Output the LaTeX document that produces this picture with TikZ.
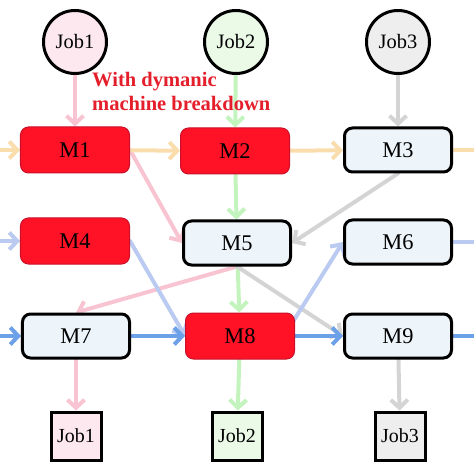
\documentclass[tikz,border=0pt]{standalone}
\usepackage{fontspec}
\setmainfont{Liberation Serif}
\usetikzlibrary{arrows.meta}
\pgfdeclarelayer{bg}
\pgfsetlayers{bg,main}
\definecolor{cpink}{HTML}{F8C4D2}
\definecolor{cgreen}{HTML}{C4F4BE}
\definecolor{cgray}{HTML}{D4D4D4}
\definecolor{cpeach}{HTML}{FADDAC}
\definecolor{clblue}{HTML}{BACAF0}
\definecolor{cblue}{HTML}{6CA0E8}
\definecolor{cred}{HTML}{FF1226}
\definecolor{credb}{HTML}{C8102A}
\definecolor{cbox}{HTML}{EEF5FA}
\definecolor{cjobA}{HTML}{FCE8EE}
\definecolor{cjobB}{HTML}{EAFAE7}
\definecolor{cjobC}{HTML}{EEEEEE}
\definecolor{clabel}{HTML}{E41E2B}
\begin{document}
\begin{tikzpicture}[x=1bp,y=-1bp,
  mbox/.style={rectangle, rounded corners=8bp, inner sep=0pt, font=\fontsize{22.5}{26}\selectfont},
  lightbox/.style={mbox, draw=black, line width=3bp, fill=cbox, minimum width=107bp, minimum height=44bp},
  redbox/.style={mbox, draw=credb, line width=1bp, fill=cred, minimum width=109bp, minimum height=46bp},
  jobc/.style={circle, draw=black, line width=3bp, minimum size=63bp, inner sep=0pt, font=\fontsize{20.5}{24}\selectfont},
  jobs/.style={rectangle, draw=black, line width=3bp, minimum width=50bp, minimum height=48bp, inner sep=0pt, font=\fontsize{20}{24}\selectfont},
  conn/.style={line width=4bp, line cap=round, line join=round, -{Straight Barb[length=8bp,width=17bp]}},
  plain/.style={line width=4bp, line cap=round}
]
\useasboundingbox (0,0) rectangle (474,474);
% job circles
\node[jobc, fill=cjobA] (J1) at (75,42) {Job1};
\node[jobc, fill=cjobB] (J2) at (236,42) {Job2};
\node[jobc, fill=cjobC] (J3) at (398,42) {Job3};
% machines
\node[redbox] (M1) at (75,150) {M1};
\node[redbox] (M2) at (235,151) {M2};
\node[lightbox] (M3) at (398,150) {M3};
\node[redbox] (M4) at (75,241) {M4};
\node[lightbox] (M5) at (237,243) {M5};
\node[lightbox] (M6) at (398,242) {M6};
\node[lightbox] (M7) at (76,336) {M7};
\node[redbox] (M8) at (240,336) {M8};
\node[lightbox] (M9) at (398,336) {M9};
% job squares
\node[jobs, fill=cjobA] (S1) at (76,436) {Job1};
\node[jobs, fill=cjobB] (S2) at (237,436) {Job2};
\node[jobs, fill=cjobC] (S3) at (400,436) {Job3};
% label
\node[anchor=north west, align=left, text=clabel, font=\bfseries\fontsize{20.6}{24}\selectfont, inner sep=0pt] (lab) at (92,72) {With dymanic\\machine breakdown};
% border coordinates
\coordinate (L1) at (0,150);
\coordinate (L4) at (0,241);
\coordinate (L7) at (0,336);
\coordinate (R3) at (474,150);
\coordinate (R6) at (474,242);
\coordinate (R9) at (474,336);
\begin{pgfonlayer}{bg}
% job 1 (pink)
\draw[conn, cpink] (J1) -- (M1);
\draw[conn, cpink] (M1.east) -- (M5.west);
\draw[conn, cpink] (M5.south) -- (M7.north);
\draw[conn, cpink] (M7) -- (S1);
% job 2 (green)
\draw[conn, cgreen] (J2) -- (M2);
\draw[conn, cgreen] (M2) -- (M5);
\draw[conn, cgreen] (M5) -- (M8);
\draw[conn, cgreen] (M8) -- (S2);
% job 3 (gray)
\draw[conn, cgray] (J3) -- (M3);
\draw[conn, cgray] (M3.south) -- (M5.east);
\draw[conn, cgray] (M5.south) -- (M9.west);
\draw[conn, cgray] (M9) -- (S3);
% row 1 (peach)
\draw[conn, cpeach] (L1) -- (M1.west);
\draw[conn, cpeach] (M1) -- (M2);
\draw[conn, cpeach] (M2) -- (M3);
\draw[plain, cpeach] (M3.east) -- (R3);
% row 2 (light blue)
\draw[conn, clblue] (L4) -- (M4.west);
\draw[conn, clblue] (M4.east) -- (M8.west);
\draw[conn, clblue] ([xshift=-11bp]M8.east) -- (M6.west);
\draw[plain, clblue] (M6.east) -- (R6);
% row 3 (blue)
\draw[conn, cblue] (L7) -- (M7.west);
\draw[conn, cblue] (M7) -- (M8);
\draw[conn, cblue] (M8) -- (M9);
\draw[plain, cblue] (M9.east) -- (R9);
\end{pgfonlayer}
\end{tikzpicture}
\end{document}
